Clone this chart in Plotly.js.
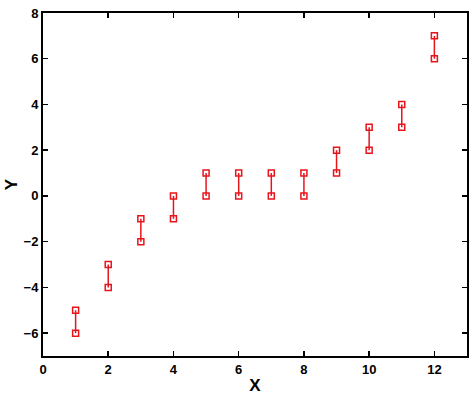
<!DOCTYPE html>
<html>
<head>
<meta charset="utf-8">
<script src="https://cdn.plot.ly/plotly-3.0.1.min.js"></script>
<style>body{margin:0;background:#fff}#chart{width:474px;height:400px}</style>
</head>
<body>
<div id="chart"></div>
<script>
// pairs of values at each x
var xs = [1, 2, 3, 4, 5, 6, 7, 8, 9, 10, 11, 12];
var yLow = [-6, -4, -2, -1, 0, 0, 0, 0, 1, 2, 3, 6];
var yHigh = [-5, -3, -1, 0, 1, 1, 1, 1, 2, 3, 4, 7];

var px = [], py = [];
for (var i = 0; i < xs.length; i++) {
  px.push(xs[i], xs[i], null);
  py.push(yLow[i], yHigh[i], null);
}

var data = [{
  type: "scatter",
  mode: "lines+markers",
  x: px, y: py,
  connectgaps: false,
  line: { color: "#e8141c", width: 1.5 },
  marker: { symbol: "square-open", size: 6, color: "#e8141c", line: { width: 1.5, color: "#e8141c" } },
  showlegend: false
}];

var axisCommon = {
  showgrid: false, zeroline: false,
  showline: true, linecolor: "#000", linewidth: 2, mirror: "allticks",
  ticks: "inside", ticklen: 5, tickwidth: 1.5, tickcolor: "#000",
  tickfont: { family: "Liberation Sans, Arial, sans-serif", size: 13, color: "#000", weight: "bold" }
};

var layout = {
  width: 474, height: 400,
  margin: { l: 43, r: 7, t: 13, b: 44 },
  paper_bgcolor: "#fff", plot_bgcolor: "#fff",
  xaxis: Object.assign({}, axisCommon, {
    range: [0, 13], tickvals: [0, 2, 4, 6, 8, 10, 12],
    title: { text: "X", standoff: 4, font: { family: "Liberation Sans, Arial, sans-serif", size: 17, color: "#000", weight: "bold" } }
  }),
  yaxis: Object.assign({}, axisCommon, {
    range: [-7, 8], tickvals: [-6, -4, -2, 0, 2, 4, 6, 8],
    title: { text: "Y", standoff: 2, font: { family: "Liberation Sans, Arial, sans-serif", size: 17, color: "#000", weight: "bold" } }
  })
};

Plotly.newPlot("chart", data, layout, { displayModeBar: false, staticPlot: true });
</script>
</body>
</html>
